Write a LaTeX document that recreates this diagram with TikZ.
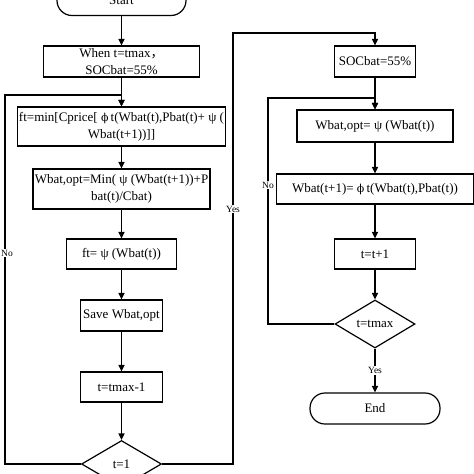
\documentclass[tikz,border=0pt]{standalone}
\usepackage{fontspec}
\setmainfont{Liberation Serif}
\newfontfamily\cjk{Noto Sans CJK SC}
\newfontfamily\gk{DejaVu Serif}
\usetikzlibrary{arrows.meta,shapes.geometric}
\newcommand{\vphi}{{\gk\fontsize{11}{13}\selectfont ϕ}}
\begin{document}
\begin{tikzpicture}[x=1pt,y=-1pt,
  line width=1.2pt,
  base/.style={draw, line width=1.2pt, inner sep=0pt, align=center, font=\fontsize{13}{17}\selectfont},
  box/.style={base, rectangle, minimum width=#1},
  term/.style={base, rectangle, rounded corners=15pt, minimum width=#1, minimum height=31pt},
  dec/.style={base, diamond, minimum width=80pt, minimum height=47pt},
  arr/.style={-{Triangle[length=6.5pt,width=6pt]}},
  lbl/.style={fill=white, inner sep=1pt, font=\fontsize{9.5}{10}\selectfont}]
\useasboundingbox (0,0) rectangle (474,474);
\clip (0,0) rectangle (474,474);
% left column
\node[term=129pt] (start) at (121.5,0) {Start};
\node[box=156pt, minimum height=31pt] (b2) at (121.5,61.5) {When t=tmax{\cjk ，}\\SOCbat=55\%};
\node[box=208pt, minimum height=39pt] (b3) at (121.5,126.5) {ft=min[Cprice[ \vphi\,t(Wbat(t),Pbat(t)+ ψ (\\Wbat(t+1))]]};
\node[box=177pt, minimum height=40pt] (b4) at (121.5,189) {Wbat,opt=Min( ψ (Wbat(t+1))+P\\bat(t)/Cbat)};
\node[box=110pt, minimum height=30pt] (b5) at (121.5,254) {ft= ψ (Wbat(t))};
\node[box=82pt, minimum height=31pt] (b6) at (121.5,315.5) {Save Wbat,opt};
\node[box=82pt, minimum height=30pt] (b7) at (121.5,387) {t=tmax-1};
\node[dec] (d1) at (121.5,464) {t=1};
% right column
\node[box=81pt, minimum height=31pt] (r1) at (375,61.5) {SOCbat=55\%};
\node[box=156pt, minimum height=32pt] (r2) at (375,126) {Wbat,opt= ψ (Wbat(t))};
\node[box=197pt, minimum height=30pt] (r3) at (375,189) {Wbat(t+1)= \vphi\,t(Wbat(t),Pbat(t))};
\node[box=81pt, minimum height=30pt] (r4) at (375,254) {t=t+1};
\node[dec, minimum height=48pt] (d2) at (375,324) {t=tmax};
\node[term=130pt] (end) at (375,408.5) {End};
% main flow
\draw[arr] (start) -- (b2);
\draw[arr] (b2) -- (b3);
\draw[arr] (b3) -- (b4);
\draw[arr] (b4) -- (b5);
\draw[arr] (b5) -- (b6);
\draw[arr] (b6) -- (b7);
\draw[arr] (b7) -- (d1);
\draw[arr] (r1) -- (r2);
\draw[arr] (r2) -- (r3);
\draw[arr] (r3) -- (r4);
\draw[arr] (r4) -- (d2);
\draw[arr] (d2) -- node[lbl]{Yes} (end);
% loops
\coordinate (jl) at (121.5,95);
\draw[arr] (d1.west) -- (5,464) -- (5,95) -- (jl) -- (b3.north);
\node[lbl] at (7,253) {No};
\coordinate (jy) at (375,33);
\draw[arr] (d1.east) -- (233,464) -- (233,33) -- (jy) -- (r1.north);
\node[lbl] at (233,209) {Yes};
\coordinate (jr) at (375,98);
\draw[arr] (d2.west) -- (268,324) -- (268,98) -- (jr) -- (r2.north);
\node[lbl] at (268,185) {No};
\end{tikzpicture}
\end{document}
